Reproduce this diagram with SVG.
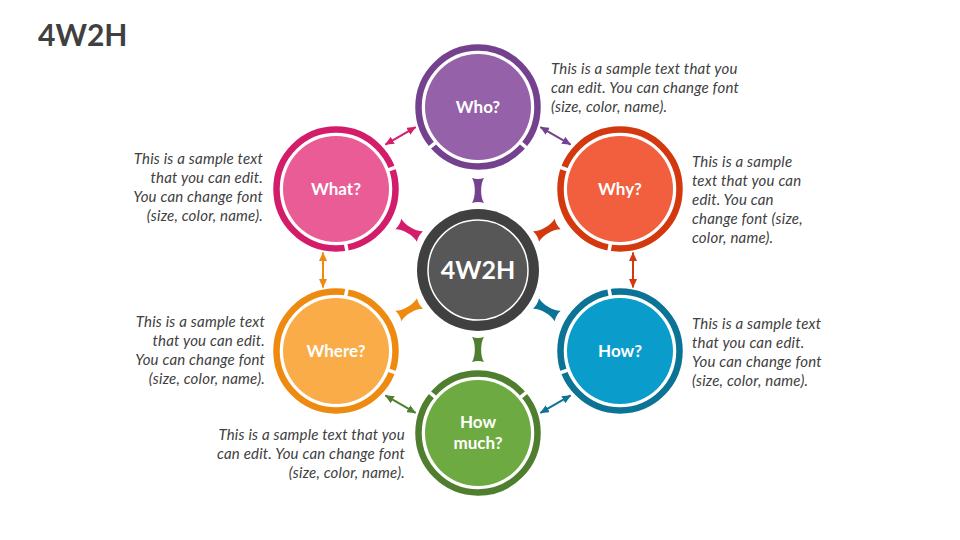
<svg xmlns="http://www.w3.org/2000/svg" width="960" height="540" viewBox="0 0 960 540">
<style>
.title{font-family:Lato,"Open Sans","Liberation Sans",sans-serif;font-weight:bold;font-size:30px;fill:#404040}
.lbl{font-family:Lato,"Open Sans","Liberation Sans",sans-serif;font-weight:bold;font-size:17px;fill:#fff;text-anchor:middle}
.ctr{font-family:Lato,"Open Sans","Liberation Sans",sans-serif;font-weight:bold;font-size:25px;fill:#fff;text-anchor:middle}
.body{font-family:Lato,"Open Sans","Liberation Sans",sans-serif;font-style:italic;font-size:15px;letter-spacing:0.2px;fill:#404040}
.r{text-anchor:end}
.gap{stroke:#fff;stroke-width:3.5}
.arr{stroke-width:2;fill:none}
</style>
<defs>
<marker id="mPu" viewBox="0 0 9 8" refX="8.5" refY="4" markerWidth="9" markerHeight="8" markerUnits="userSpaceOnUse" orient="auto-start-reverse"><path d="M0,0 L9,4 L0,8 z" fill="#74418f"/></marker>
<marker id="mRe" viewBox="0 0 9 8" refX="8.5" refY="4" markerWidth="9" markerHeight="8" markerUnits="userSpaceOnUse" orient="auto-start-reverse"><path d="M0,0 L9,4 L0,8 z" fill="#d4380f"/></marker>
<marker id="mBl" viewBox="0 0 9 8" refX="8.5" refY="4" markerWidth="9" markerHeight="8" markerUnits="userSpaceOnUse" orient="auto-start-reverse"><path d="M0,0 L9,4 L0,8 z" fill="#0b7395"/></marker>
<marker id="mGr" viewBox="0 0 9 8" refX="8.5" refY="4" markerWidth="9" markerHeight="8" markerUnits="userSpaceOnUse" orient="auto-start-reverse"><path d="M0,0 L9,4 L0,8 z" fill="#4f7f2e"/></marker>
<marker id="mOr" viewBox="0 0 9 8" refX="8.5" refY="4" markerWidth="9" markerHeight="8" markerUnits="userSpaceOnUse" orient="auto-start-reverse"><path d="M0,0 L9,4 L0,8 z" fill="#ee8a10"/></marker>
<marker id="mPk" viewBox="0 0 9 8" refX="8.5" refY="4" markerWidth="9" markerHeight="8" markerUnits="userSpaceOnUse" orient="auto-start-reverse"><path d="M0,0 L9,4 L0,8 z" fill="#d41d6a"/></marker>
<path id="stem" d="M67,-6 Q69,0 67,6 C73,2.2 86,2.2 92,6 Q90,0 92,-6 C86,-2.2 73,-2.2 67,-6 Z"/>
</defs>
<rect width="960" height="540" fill="#fff"/>
<text class="title" x="38" y="46">4W2H</text>

<g id="connectors">
  <use href="#stem" transform="translate(478,270) rotate(-90)" fill="#74418f"/>
  <use href="#stem" transform="translate(478,270) rotate(-30)" fill="#d4380f"/>
  <use href="#stem" transform="translate(478,270) rotate(30)" fill="#0b7395"/>
  <use href="#stem" transform="translate(478,270) rotate(90)" fill="#4f7f2e"/>
  <use href="#stem" transform="translate(478,270) rotate(150)" fill="#ee8a10"/>
  <use href="#stem" transform="translate(478,270) rotate(210)" fill="#d41d6a"/>
  <g transform="translate(478,270)">
    <line class="arr" transform="rotate(-60)" x1="155" y1="-17.5" x2="155" y2="17.5" stroke="#74418f" marker-start="url(#mPu)" marker-end="url(#mPu)"/>
    <line class="arr" transform="rotate(0)" x1="155" y1="-17.5" x2="155" y2="17.5" stroke="#d4380f" marker-start="url(#mRe)" marker-end="url(#mRe)"/>
    <line class="arr" transform="rotate(60)" x1="155" y1="-17.5" x2="155" y2="17.5" stroke="#0b7395" marker-start="url(#mBl)" marker-end="url(#mBl)"/>
    <line class="arr" transform="rotate(120)" x1="155" y1="-17.5" x2="155" y2="17.5" stroke="#4f7f2e" marker-start="url(#mGr)" marker-end="url(#mGr)"/>
    <line class="arr" transform="rotate(180)" x1="155" y1="-17.5" x2="155" y2="17.5" stroke="#ee8a10" marker-start="url(#mOr)" marker-end="url(#mOr)"/>
    <line class="arr" transform="rotate(240)" x1="155" y1="-17.5" x2="155" y2="17.5" stroke="#d41d6a" marker-start="url(#mPk)" marker-end="url(#mPk)"/>
  </g>
</g>

<g id="center">
  <circle cx="478" cy="270" r="61" fill="#404040"/>
  <circle cx="478" cy="270" r="50" fill="#575757" stroke="#fff" stroke-width="1.5"/>
  <text class="ctr" x="478" y="279">4W2H</text>
</g>

<g id="who" transform="translate(478,107)">
  <circle r="59.5" fill="none" stroke="#74418f" stroke-width="6.5"/>
  <circle r="53" fill="#9561a8"/>
  <g class="gap"><line transform="rotate(40)" x1="55" y1="0" x2="65" y2="0"/><line transform="rotate(140)" x1="55" y1="0" x2="65" y2="0"/></g>
  <text class="lbl" x="0" y="6">Who?</text>
</g>
<g id="why" transform="translate(620,189)">
  <circle r="59.5" fill="none" stroke="#d4380f" stroke-width="6.5"/>
  <circle r="53" fill="#f15f3e"/>
  <g class="gap"><line transform="rotate(100)" x1="55" y1="0" x2="65" y2="0"/><line transform="rotate(200)" x1="55" y1="0" x2="65" y2="0"/></g>
  <text class="lbl" x="0" y="6">Why?</text>
</g>
<g id="how" transform="translate(620,351)">
  <circle r="59.5" fill="none" stroke="#0b7395" stroke-width="6.5"/>
  <circle r="53" fill="#0a9dcc"/>
  <g class="gap"><line transform="rotate(160)" x1="55" y1="0" x2="65" y2="0"/><line transform="rotate(260)" x1="55" y1="0" x2="65" y2="0"/></g>
  <text class="lbl" x="0" y="6">How?</text>
</g>
<g id="howmuch" transform="translate(478,433)">
  <circle r="59.5" fill="none" stroke="#4f7f2e" stroke-width="6.5"/>
  <circle r="53" fill="#6dab42"/>
  <g class="gap"><line transform="rotate(-40)" x1="55" y1="0" x2="65" y2="0"/><line transform="rotate(-140)" x1="55" y1="0" x2="65" y2="0"/></g>
  <text class="lbl" x="0" y="-5">How</text>
  <text class="lbl" x="0" y="16">much?</text>
</g>
<g id="where" transform="translate(336,351)">
  <circle r="59.5" fill="none" stroke="#ee8a10" stroke-width="6.5"/>
  <circle r="53" fill="#f9ac47"/>
  <g class="gap"><line transform="rotate(20)" x1="55" y1="0" x2="65" y2="0"/><line transform="rotate(-80)" x1="55" y1="0" x2="65" y2="0"/></g>
  <text class="lbl" x="0" y="6">Where?</text>
</g>
<g id="what" transform="translate(336,189)">
  <circle r="59.5" fill="none" stroke="#d41d6a" stroke-width="6.5"/>
  <circle r="53" fill="#e95c95"/>
  <g class="gap"><line transform="rotate(80)" x1="55" y1="0" x2="65" y2="0"/><line transform="rotate(-20)" x1="55" y1="0" x2="65" y2="0"/></g>
  <text class="lbl" x="0" y="6">What?</text>
</g>

<g id="text-who" class="body">
  <text x="551" y="74">This is a sample text that you</text>
  <text x="551" y="93">can edit. You can change font</text>
  <text x="551" y="112">(size, color, name).</text>
</g>
<g id="text-why" class="body">
  <text x="692" y="167">This is a sample</text>
  <text x="692" y="186">text that you can</text>
  <text x="692" y="205">edit. You can</text>
  <text x="692" y="224">change font (size,</text>
  <text x="692" y="243">color, name).</text>
</g>
<g id="text-how" class="body">
  <text x="692" y="329">This is a sample text</text>
  <text x="692" y="348">that you can edit.</text>
  <text x="692" y="367">You can change font</text>
  <text x="692" y="386">(size, color, name).</text>
</g>
<g id="text-howmuch" class="body r">
  <text x="405" y="440">This is a sample text that you</text>
  <text x="405" y="459">can edit. You can change font</text>
  <text x="405" y="478">(size, color, name).</text>
</g>
<g id="text-where" class="body r">
  <text x="265" y="327">This is a sample text</text>
  <text x="265" y="346">that you can edit.</text>
  <text x="265" y="365">You can change font</text>
  <text x="265" y="384">(size, color, name).</text>
</g>
<g id="text-what" class="body r">
  <text x="263" y="164">This is a sample text</text>
  <text x="263" y="183">that you can edit.</text>
  <text x="263" y="202">You can change font</text>
  <text x="263" y="221">(size, color, name).</text>
</g>
</svg>
